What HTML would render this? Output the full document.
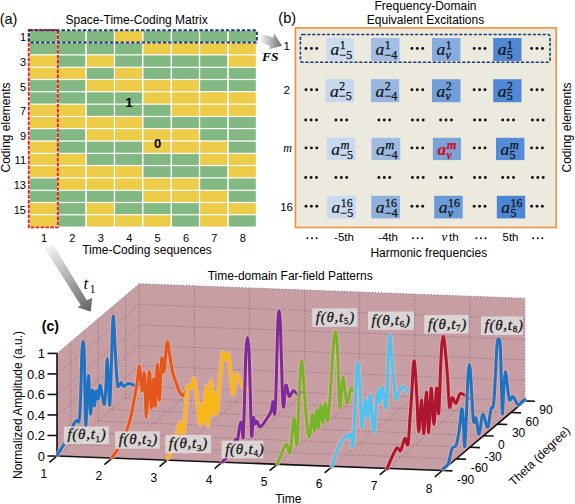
<!DOCTYPE html><html><head><meta charset="utf-8"><style>html,body{margin:0;padding:0;background:#fff;}svg{display:block;}text{font-family:"Liberation Sans",sans-serif;}</style></head><body><svg width="575" height="504" viewBox="0 0 575 504"><defs><linearGradient id="arr1" x1="0" y1="0" x2="1" y2="0"><stop offset="0" stop-color="#f4f4f4"/><stop offset="1" stop-color="#6e6e6e"/></linearGradient><linearGradient id="arr2" gradientUnits="userSpaceOnUse" x1="48" y1="246" x2="88" y2="308"><stop offset="0" stop-color="#f6f6f6"/><stop offset="1" stop-color="#6a6a6a"/></linearGradient></defs><text x="-0.3" y="23.5" font-size="14.5">(a)</text><text x="65.5" y="24.3" font-size="12">Space-Time-Coding Matrix</text><rect x="30.3" y="31.3" width="26.2" height="10.3" fill="#82b882" stroke="#72ad72" stroke-width="0.6"/><rect x="58.7" y="31.3" width="26.2" height="10.3" fill="#82b882" stroke="#72ad72" stroke-width="0.6"/><rect x="87.1" y="31.3" width="26.2" height="10.3" fill="#82b882" stroke="#72ad72" stroke-width="0.6"/><rect x="115.5" y="31.3" width="26.2" height="10.3" fill="#edcc47" stroke="#e6c030" stroke-width="0.6"/><rect x="143.9" y="31.3" width="26.2" height="10.3" fill="#82b882" stroke="#72ad72" stroke-width="0.6"/><rect x="172.3" y="31.3" width="26.2" height="10.3" fill="#82b882" stroke="#72ad72" stroke-width="0.6"/><rect x="200.7" y="31.3" width="26.2" height="10.3" fill="#82b882" stroke="#72ad72" stroke-width="0.6"/><rect x="229.1" y="31.3" width="26.2" height="10.3" fill="#82b882" stroke="#72ad72" stroke-width="0.6"/><rect x="30.3" y="43.6" width="26.2" height="10.3" fill="#82b882" stroke="#72ad72" stroke-width="0.6"/><rect x="58.7" y="43.6" width="26.2" height="10.3" fill="#82b882" stroke="#72ad72" stroke-width="0.6"/><rect x="87.1" y="43.6" width="26.2" height="10.3" fill="#82b882" stroke="#72ad72" stroke-width="0.6"/><rect x="115.5" y="43.6" width="26.2" height="10.3" fill="#82b882" stroke="#72ad72" stroke-width="0.6"/><rect x="143.9" y="43.6" width="26.2" height="10.3" fill="#edcc47" stroke="#e6c030" stroke-width="0.6"/><rect x="172.3" y="43.6" width="26.2" height="10.3" fill="#edcc47" stroke="#e6c030" stroke-width="0.6"/><rect x="200.7" y="43.6" width="26.2" height="10.3" fill="#edcc47" stroke="#e6c030" stroke-width="0.6"/><rect x="229.1" y="43.6" width="26.2" height="10.3" fill="#edcc47" stroke="#e6c030" stroke-width="0.6"/><rect x="30.3" y="55.9" width="26.2" height="10.3" fill="#edcc47" stroke="#e6c030" stroke-width="0.6"/><rect x="58.7" y="55.9" width="26.2" height="10.3" fill="#82b882" stroke="#72ad72" stroke-width="0.6"/><rect x="87.1" y="55.9" width="26.2" height="10.3" fill="#edcc47" stroke="#e6c030" stroke-width="0.6"/><rect x="115.5" y="55.9" width="26.2" height="10.3" fill="#82b882" stroke="#72ad72" stroke-width="0.6"/><rect x="143.9" y="55.9" width="26.2" height="10.3" fill="#82b882" stroke="#72ad72" stroke-width="0.6"/><rect x="172.3" y="55.9" width="26.2" height="10.3" fill="#82b882" stroke="#72ad72" stroke-width="0.6"/><rect x="200.7" y="55.9" width="26.2" height="10.3" fill="#82b882" stroke="#72ad72" stroke-width="0.6"/><rect x="229.1" y="55.9" width="26.2" height="10.3" fill="#edcc47" stroke="#e6c030" stroke-width="0.6"/><rect x="30.3" y="68.2" width="26.2" height="10.3" fill="#edcc47" stroke="#e6c030" stroke-width="0.6"/><rect x="58.7" y="68.2" width="26.2" height="10.3" fill="#edcc47" stroke="#e6c030" stroke-width="0.6"/><rect x="87.1" y="68.2" width="26.2" height="10.3" fill="#82b882" stroke="#72ad72" stroke-width="0.6"/><rect x="115.5" y="68.2" width="26.2" height="10.3" fill="#edcc47" stroke="#e6c030" stroke-width="0.6"/><rect x="143.9" y="68.2" width="26.2" height="10.3" fill="#82b882" stroke="#72ad72" stroke-width="0.6"/><rect x="172.3" y="68.2" width="26.2" height="10.3" fill="#82b882" stroke="#72ad72" stroke-width="0.6"/><rect x="200.7" y="68.2" width="26.2" height="10.3" fill="#82b882" stroke="#72ad72" stroke-width="0.6"/><rect x="229.1" y="68.2" width="26.2" height="10.3" fill="#82b882" stroke="#72ad72" stroke-width="0.6"/><rect x="30.3" y="80.5" width="26.2" height="10.3" fill="#82b882" stroke="#72ad72" stroke-width="0.6"/><rect x="58.7" y="80.5" width="26.2" height="10.3" fill="#82b882" stroke="#72ad72" stroke-width="0.6"/><rect x="87.1" y="80.5" width="26.2" height="10.3" fill="#edcc47" stroke="#e6c030" stroke-width="0.6"/><rect x="115.5" y="80.5" width="26.2" height="10.3" fill="#edcc47" stroke="#e6c030" stroke-width="0.6"/><rect x="143.9" y="80.5" width="26.2" height="10.3" fill="#edcc47" stroke="#e6c030" stroke-width="0.6"/><rect x="172.3" y="80.5" width="26.2" height="10.3" fill="#edcc47" stroke="#e6c030" stroke-width="0.6"/><rect x="200.7" y="80.5" width="26.2" height="10.3" fill="#82b882" stroke="#72ad72" stroke-width="0.6"/><rect x="229.1" y="80.5" width="26.2" height="10.3" fill="#82b882" stroke="#72ad72" stroke-width="0.6"/><rect x="30.3" y="92.8" width="26.2" height="10.3" fill="#82b882" stroke="#72ad72" stroke-width="0.6"/><rect x="58.7" y="92.8" width="26.2" height="10.3" fill="#82b882" stroke="#72ad72" stroke-width="0.6"/><rect x="87.1" y="92.8" width="26.2" height="10.3" fill="#82b882" stroke="#72ad72" stroke-width="0.6"/><rect x="115.5" y="92.8" width="26.2" height="10.3" fill="#82b882" stroke="#72ad72" stroke-width="0.6"/><rect x="143.9" y="92.8" width="26.2" height="10.3" fill="#edcc47" stroke="#e6c030" stroke-width="0.6"/><rect x="172.3" y="92.8" width="26.2" height="10.3" fill="#edcc47" stroke="#e6c030" stroke-width="0.6"/><rect x="200.7" y="92.8" width="26.2" height="10.3" fill="#edcc47" stroke="#e6c030" stroke-width="0.6"/><rect x="229.1" y="92.8" width="26.2" height="10.3" fill="#edcc47" stroke="#e6c030" stroke-width="0.6"/><rect x="30.3" y="105.1" width="26.2" height="10.3" fill="#edcc47" stroke="#e6c030" stroke-width="0.6"/><rect x="58.7" y="105.1" width="26.2" height="10.3" fill="#edcc47" stroke="#e6c030" stroke-width="0.6"/><rect x="87.1" y="105.1" width="26.2" height="10.3" fill="#82b882" stroke="#72ad72" stroke-width="0.6"/><rect x="115.5" y="105.1" width="26.2" height="10.3" fill="#82b882" stroke="#72ad72" stroke-width="0.6"/><rect x="143.9" y="105.1" width="26.2" height="10.3" fill="#82b882" stroke="#72ad72" stroke-width="0.6"/><rect x="172.3" y="105.1" width="26.2" height="10.3" fill="#edcc47" stroke="#e6c030" stroke-width="0.6"/><rect x="200.7" y="105.1" width="26.2" height="10.3" fill="#edcc47" stroke="#e6c030" stroke-width="0.6"/><rect x="229.1" y="105.1" width="26.2" height="10.3" fill="#edcc47" stroke="#e6c030" stroke-width="0.6"/><rect x="30.3" y="117.4" width="26.2" height="10.3" fill="#edcc47" stroke="#e6c030" stroke-width="0.6"/><rect x="58.7" y="117.4" width="26.2" height="10.3" fill="#edcc47" stroke="#e6c030" stroke-width="0.6"/><rect x="87.1" y="117.4" width="26.2" height="10.3" fill="#edcc47" stroke="#e6c030" stroke-width="0.6"/><rect x="115.5" y="117.4" width="26.2" height="10.3" fill="#edcc47" stroke="#e6c030" stroke-width="0.6"/><rect x="143.9" y="117.4" width="26.2" height="10.3" fill="#82b882" stroke="#72ad72" stroke-width="0.6"/><rect x="172.3" y="117.4" width="26.2" height="10.3" fill="#82b882" stroke="#72ad72" stroke-width="0.6"/><rect x="200.7" y="117.4" width="26.2" height="10.3" fill="#82b882" stroke="#72ad72" stroke-width="0.6"/><rect x="229.1" y="117.4" width="26.2" height="10.3" fill="#82b882" stroke="#72ad72" stroke-width="0.6"/><rect x="30.3" y="129.7" width="26.2" height="10.3" fill="#82b882" stroke="#72ad72" stroke-width="0.6"/><rect x="58.7" y="129.7" width="26.2" height="10.3" fill="#82b882" stroke="#72ad72" stroke-width="0.6"/><rect x="87.1" y="129.7" width="26.2" height="10.3" fill="#edcc47" stroke="#e6c030" stroke-width="0.6"/><rect x="115.5" y="129.7" width="26.2" height="10.3" fill="#edcc47" stroke="#e6c030" stroke-width="0.6"/><rect x="143.9" y="129.7" width="26.2" height="10.3" fill="#edcc47" stroke="#e6c030" stroke-width="0.6"/><rect x="172.3" y="129.7" width="26.2" height="10.3" fill="#edcc47" stroke="#e6c030" stroke-width="0.6"/><rect x="200.7" y="129.7" width="26.2" height="10.3" fill="#82b882" stroke="#72ad72" stroke-width="0.6"/><rect x="229.1" y="129.7" width="26.2" height="10.3" fill="#82b882" stroke="#72ad72" stroke-width="0.6"/><rect x="30.3" y="142.0" width="26.2" height="10.3" fill="#edcc47" stroke="#e6c030" stroke-width="0.6"/><rect x="58.7" y="142.0" width="26.2" height="10.3" fill="#82b882" stroke="#72ad72" stroke-width="0.6"/><rect x="87.1" y="142.0" width="26.2" height="10.3" fill="#82b882" stroke="#72ad72" stroke-width="0.6"/><rect x="115.5" y="142.0" width="26.2" height="10.3" fill="#82b882" stroke="#72ad72" stroke-width="0.6"/><rect x="143.9" y="142.0" width="26.2" height="10.3" fill="#edcc47" stroke="#e6c030" stroke-width="0.6"/><rect x="172.3" y="142.0" width="26.2" height="10.3" fill="#edcc47" stroke="#e6c030" stroke-width="0.6"/><rect x="200.7" y="142.0" width="26.2" height="10.3" fill="#edcc47" stroke="#e6c030" stroke-width="0.6"/><rect x="229.1" y="142.0" width="26.2" height="10.3" fill="#82b882" stroke="#72ad72" stroke-width="0.6"/><rect x="30.3" y="154.3" width="26.2" height="10.3" fill="#edcc47" stroke="#e6c030" stroke-width="0.6"/><rect x="58.7" y="154.3" width="26.2" height="10.3" fill="#edcc47" stroke="#e6c030" stroke-width="0.6"/><rect x="87.1" y="154.3" width="26.2" height="10.3" fill="#82b882" stroke="#72ad72" stroke-width="0.6"/><rect x="115.5" y="154.3" width="26.2" height="10.3" fill="#82b882" stroke="#72ad72" stroke-width="0.6"/><rect x="143.9" y="154.3" width="26.2" height="10.3" fill="#82b882" stroke="#72ad72" stroke-width="0.6"/><rect x="172.3" y="154.3" width="26.2" height="10.3" fill="#82b882" stroke="#72ad72" stroke-width="0.6"/><rect x="200.7" y="154.3" width="26.2" height="10.3" fill="#edcc47" stroke="#e6c030" stroke-width="0.6"/><rect x="229.1" y="154.3" width="26.2" height="10.3" fill="#edcc47" stroke="#e6c030" stroke-width="0.6"/><rect x="30.3" y="166.6" width="26.2" height="10.3" fill="#edcc47" stroke="#e6c030" stroke-width="0.6"/><rect x="58.7" y="166.6" width="26.2" height="10.3" fill="#edcc47" stroke="#e6c030" stroke-width="0.6"/><rect x="87.1" y="166.6" width="26.2" height="10.3" fill="#edcc47" stroke="#e6c030" stroke-width="0.6"/><rect x="115.5" y="166.6" width="26.2" height="10.3" fill="#edcc47" stroke="#e6c030" stroke-width="0.6"/><rect x="143.9" y="166.6" width="26.2" height="10.3" fill="#82b882" stroke="#72ad72" stroke-width="0.6"/><rect x="172.3" y="166.6" width="26.2" height="10.3" fill="#82b882" stroke="#72ad72" stroke-width="0.6"/><rect x="200.7" y="166.6" width="26.2" height="10.3" fill="#82b882" stroke="#72ad72" stroke-width="0.6"/><rect x="229.1" y="166.6" width="26.2" height="10.3" fill="#edcc47" stroke="#e6c030" stroke-width="0.6"/><rect x="30.3" y="178.9" width="26.2" height="10.3" fill="#82b882" stroke="#72ad72" stroke-width="0.6"/><rect x="58.7" y="178.9" width="26.2" height="10.3" fill="#edcc47" stroke="#e6c030" stroke-width="0.6"/><rect x="87.1" y="178.9" width="26.2" height="10.3" fill="#edcc47" stroke="#e6c030" stroke-width="0.6"/><rect x="115.5" y="178.9" width="26.2" height="10.3" fill="#edcc47" stroke="#e6c030" stroke-width="0.6"/><rect x="143.9" y="178.9" width="26.2" height="10.3" fill="#edcc47" stroke="#e6c030" stroke-width="0.6"/><rect x="172.3" y="178.9" width="26.2" height="10.3" fill="#edcc47" stroke="#e6c030" stroke-width="0.6"/><rect x="200.7" y="178.9" width="26.2" height="10.3" fill="#82b882" stroke="#72ad72" stroke-width="0.6"/><rect x="229.1" y="178.9" width="26.2" height="10.3" fill="#82b882" stroke="#72ad72" stroke-width="0.6"/><rect x="30.3" y="191.2" width="26.2" height="10.3" fill="#82b882" stroke="#72ad72" stroke-width="0.6"/><rect x="58.7" y="191.2" width="26.2" height="10.3" fill="#82b882" stroke="#72ad72" stroke-width="0.6"/><rect x="87.1" y="191.2" width="26.2" height="10.3" fill="#82b882" stroke="#72ad72" stroke-width="0.6"/><rect x="115.5" y="191.2" width="26.2" height="10.3" fill="#82b882" stroke="#72ad72" stroke-width="0.6"/><rect x="143.9" y="191.2" width="26.2" height="10.3" fill="#edcc47" stroke="#e6c030" stroke-width="0.6"/><rect x="172.3" y="191.2" width="26.2" height="10.3" fill="#edcc47" stroke="#e6c030" stroke-width="0.6"/><rect x="200.7" y="191.2" width="26.2" height="10.3" fill="#edcc47" stroke="#e6c030" stroke-width="0.6"/><rect x="229.1" y="191.2" width="26.2" height="10.3" fill="#82b882" stroke="#72ad72" stroke-width="0.6"/><rect x="30.3" y="203.5" width="26.2" height="10.3" fill="#edcc47" stroke="#e6c030" stroke-width="0.6"/><rect x="58.7" y="203.5" width="26.2" height="10.3" fill="#82b882" stroke="#72ad72" stroke-width="0.6"/><rect x="87.1" y="203.5" width="26.2" height="10.3" fill="#edcc47" stroke="#e6c030" stroke-width="0.6"/><rect x="115.5" y="203.5" width="26.2" height="10.3" fill="#82b882" stroke="#72ad72" stroke-width="0.6"/><rect x="143.9" y="203.5" width="26.2" height="10.3" fill="#82b882" stroke="#72ad72" stroke-width="0.6"/><rect x="172.3" y="203.5" width="26.2" height="10.3" fill="#82b882" stroke="#72ad72" stroke-width="0.6"/><rect x="200.7" y="203.5" width="26.2" height="10.3" fill="#edcc47" stroke="#e6c030" stroke-width="0.6"/><rect x="229.1" y="203.5" width="26.2" height="10.3" fill="#edcc47" stroke="#e6c030" stroke-width="0.6"/><rect x="30.3" y="215.8" width="26.2" height="10.3" fill="#edcc47" stroke="#e6c030" stroke-width="0.6"/><rect x="58.7" y="215.8" width="26.2" height="10.3" fill="#82b882" stroke="#72ad72" stroke-width="0.6"/><rect x="87.1" y="215.8" width="26.2" height="10.3" fill="#edcc47" stroke="#e6c030" stroke-width="0.6"/><rect x="115.5" y="215.8" width="26.2" height="10.3" fill="#edcc47" stroke="#e6c030" stroke-width="0.6"/><rect x="143.9" y="215.8" width="26.2" height="10.3" fill="#edcc47" stroke="#e6c030" stroke-width="0.6"/><rect x="172.3" y="215.8" width="26.2" height="10.3" fill="#82b882" stroke="#72ad72" stroke-width="0.6"/><rect x="200.7" y="215.8" width="26.2" height="10.3" fill="#edcc47" stroke="#e6c030" stroke-width="0.6"/><rect x="229.1" y="215.8" width="26.2" height="10.3" fill="#82b882" stroke="#72ad72" stroke-width="0.6"/><text x="26" y="41.4" font-size="11" text-anchor="end">1</text><text x="26" y="66.0" font-size="11" text-anchor="end">3</text><text x="26" y="90.6" font-size="11" text-anchor="end">5</text><text x="26" y="115.2" font-size="11" text-anchor="end">7</text><text x="26" y="139.8" font-size="11" text-anchor="end">9</text><text x="26" y="164.4" font-size="11" text-anchor="end">11</text><text x="26" y="189.0" font-size="11" text-anchor="end">13</text><text x="26" y="213.6" font-size="11" text-anchor="end">15</text><text x="44.0" y="242" font-size="11" text-anchor="middle">1</text><text x="72.4" y="242" font-size="11" text-anchor="middle">2</text><text x="100.8" y="242" font-size="11" text-anchor="middle">3</text><text x="129.2" y="242" font-size="11" text-anchor="middle">4</text><text x="157.6" y="242" font-size="11" text-anchor="middle">5</text><text x="186.0" y="242" font-size="11" text-anchor="middle">6</text><text x="214.4" y="242" font-size="11" text-anchor="middle">7</text><text x="242.8" y="242" font-size="11" text-anchor="middle">8</text><text x="82.2" y="254" font-size="12">Time-Coding sequences</text><text transform="translate(9.8,127.5) rotate(-90)" font-size="12" text-anchor="middle">Coding elements</text><text x="129" y="106.8" font-size="13.5" font-weight="bold" text-anchor="middle">1</text><text x="157.5" y="147.5" font-size="13" font-weight="bold" text-anchor="middle">0</text><rect x="28.8" y="30" width="29.0" height="197.4" fill="none" stroke="#f01616" stroke-width="1.9" stroke-dasharray="3.6,1.3"/><rect x="28.8" y="30.2" width="228" height="12.3" rx="1" fill="none" stroke="#1e3c72" stroke-width="2.1" stroke-dasharray="3.4,1.9"/><path d="M261.5,34 Q267,35 273,37.8 L274.2,33.6 L282.1,45.7 L268.7,49.6 L270.3,46.2 Q265,44 260.5,42.6 Z" fill="url(#arr1)"/><text x="262" y="60.5" font-size="13.5" font-weight="bold" font-style="italic" font-family="Liberation Serif" style="font-family:'Liberation Serif',serif">FS</text><text x="278.3" y="22.7" font-size="14.5">(b)</text><text x="425.5" y="10.3" font-size="12" text-anchor="middle">Frequency-Domain</text><text x="425.5" y="23.8" font-size="12" text-anchor="middle">Equivalent Excitations</text><rect x="295.4" y="27.9" width="260.8" height="199.6" fill="#ece9de" stroke="#f0923c" stroke-width="1.6"/><rect x="300.4" y="34.5" width="249.6" height="27.8" rx="2" fill="none" stroke="#1e3c72" stroke-width="1.6" stroke-dasharray="3.2,1.7"/><rect x="326" y="38" width="28.0" height="23.0" fill="#ccdbee"/><text x="330.5" y="55.3" font-size="17.5" font-style="italic" fill="#111" stroke="#111" stroke-width="0.2" style="font-family:'Liberation Serif',serif">a</text><text x="339.8" y="49.2" font-size="11.8" fill="#111" stroke="#111" stroke-width="0.25" style="font-family:'Liberation Serif',serif">1</text><text x="339.6" y="58.9" font-size="12" fill="#111" stroke="#111" stroke-width="0.25" style="font-family:'Liberation Serif',serif">−5</text><rect x="371" y="38" width="28.5" height="23.0" fill="#a3bee4"/><text x="375.5" y="55.3" font-size="17.5" font-style="italic" fill="#111" stroke="#111" stroke-width="0.2" style="font-family:'Liberation Serif',serif">a</text><text x="384.8" y="49.2" font-size="11.8" fill="#111" stroke="#111" stroke-width="0.25" style="font-family:'Liberation Serif',serif">1</text><text x="384.6" y="58.9" font-size="12" fill="#111" stroke="#111" stroke-width="0.25" style="font-family:'Liberation Serif',serif">−4</text><rect x="432" y="38" width="28.4" height="23.0" fill="#85abdf"/><text x="436.5" y="55.3" font-size="17.5" font-style="italic" fill="#111" stroke="#111" stroke-width="0.2" style="font-family:'Liberation Serif',serif">a</text><text x="445.8" y="49.2" font-size="11.8" fill="#111" stroke="#111" stroke-width="0.25" style="font-family:'Liberation Serif',serif">1</text><text x="445.6" y="58.9" font-size="12" font-style="italic" fill="#111" stroke="#111" stroke-width="0.25" style="font-family:'Liberation Serif',serif">v</text><rect x="493.2" y="38" width="28.3" height="23.0" fill="#4f87d3"/><text x="497.7" y="55.3" font-size="17.5" font-style="italic" fill="#111" stroke="#111" stroke-width="0.2" style="font-family:'Liberation Serif',serif">a</text><text x="507.0" y="49.2" font-size="11.8" fill="#111" stroke="#111" stroke-width="0.25" style="font-family:'Liberation Serif',serif">1</text><text x="506.8" y="58.9" font-size="12" fill="#111" stroke="#111" stroke-width="0.25" style="font-family:'Liberation Serif',serif">5</text><circle cx="306.00" cy="48.50" r="1.45" fill="#111"/><circle cx="311.40" cy="48.50" r="1.45" fill="#111"/><circle cx="316.80" cy="48.50" r="1.45" fill="#111"/><circle cx="411.90" cy="48.50" r="1.45" fill="#111"/><circle cx="417.30" cy="48.50" r="1.45" fill="#111"/><circle cx="422.70" cy="48.50" r="1.45" fill="#111"/><circle cx="474.20" cy="48.50" r="1.45" fill="#111"/><circle cx="479.60" cy="48.50" r="1.45" fill="#111"/><circle cx="485.00" cy="48.50" r="1.45" fill="#111"/><circle cx="531.60" cy="48.50" r="1.45" fill="#111"/><circle cx="537.00" cy="48.50" r="1.45" fill="#111"/><circle cx="542.40" cy="48.50" r="1.45" fill="#111"/><text x="290" y="50.0" font-size="11.5" text-anchor="end">1</text><rect x="325.5" y="79.2" width="28.5" height="23.0" fill="#c6d7ee"/><text x="330.0" y="96.5" font-size="17.5" font-style="italic" fill="#111" stroke="#111" stroke-width="0.2" style="font-family:'Liberation Serif',serif">a</text><text x="339.3" y="90.4" font-size="11.8" fill="#111" stroke="#111" stroke-width="0.25" style="font-family:'Liberation Serif',serif">2</text><text x="339.1" y="100.1" font-size="12" fill="#111" stroke="#111" stroke-width="0.25" style="font-family:'Liberation Serif',serif">−5</text><rect x="371" y="79.2" width="28.2" height="23.0" fill="#98b6df"/><text x="375.5" y="96.5" font-size="17.5" font-style="italic" fill="#111" stroke="#111" stroke-width="0.2" style="font-family:'Liberation Serif',serif">a</text><text x="384.8" y="90.4" font-size="11.8" fill="#111" stroke="#111" stroke-width="0.25" style="font-family:'Liberation Serif',serif">2</text><text x="384.6" y="100.1" font-size="12" fill="#111" stroke="#111" stroke-width="0.25" style="font-family:'Liberation Serif',serif">−4</text><rect x="432" y="79.2" width="28.5" height="23.0" fill="#729fd9"/><text x="436.5" y="96.5" font-size="17.5" font-style="italic" fill="#111" stroke="#111" stroke-width="0.2" style="font-family:'Liberation Serif',serif">a</text><text x="445.8" y="90.4" font-size="11.8" fill="#111" stroke="#111" stroke-width="0.25" style="font-family:'Liberation Serif',serif">2</text><text x="445.6" y="100.1" font-size="12" font-style="italic" fill="#111" stroke="#111" stroke-width="0.25" style="font-family:'Liberation Serif',serif">v</text><rect x="493.2" y="79.2" width="28.3" height="23.0" fill="#4e88d6"/><text x="497.7" y="96.5" font-size="17.5" font-style="italic" fill="#111" stroke="#111" stroke-width="0.2" style="font-family:'Liberation Serif',serif">a</text><text x="507.0" y="90.4" font-size="11.8" fill="#111" stroke="#111" stroke-width="0.25" style="font-family:'Liberation Serif',serif">2</text><text x="506.8" y="100.1" font-size="12" fill="#111" stroke="#111" stroke-width="0.25" style="font-family:'Liberation Serif',serif">5</text><circle cx="306.00" cy="89.70" r="1.45" fill="#111"/><circle cx="311.40" cy="89.70" r="1.45" fill="#111"/><circle cx="316.80" cy="89.70" r="1.45" fill="#111"/><circle cx="411.90" cy="89.70" r="1.45" fill="#111"/><circle cx="417.30" cy="89.70" r="1.45" fill="#111"/><circle cx="422.70" cy="89.70" r="1.45" fill="#111"/><circle cx="474.20" cy="89.70" r="1.45" fill="#111"/><circle cx="479.60" cy="89.70" r="1.45" fill="#111"/><circle cx="485.00" cy="89.70" r="1.45" fill="#111"/><circle cx="531.60" cy="89.70" r="1.45" fill="#111"/><circle cx="537.00" cy="89.70" r="1.45" fill="#111"/><circle cx="542.40" cy="89.70" r="1.45" fill="#111"/><text x="290" y="94.0" font-size="11.5" text-anchor="end">2</text><rect x="326.7" y="137.8" width="28.7" height="22.3" fill="#c9daf0"/><text x="331.2" y="155.1" font-size="17.5" font-style="italic" fill="#111" stroke="#111" stroke-width="0.2" style="font-family:'Liberation Serif',serif">a</text><text x="340.5" y="149.0" font-size="12.5" font-style="italic" fill="#111" stroke="#111" stroke-width="0.25" style="font-family:'Liberation Serif',serif">m</text><text x="340.3" y="158.7" font-size="12" fill="#111" stroke="#111" stroke-width="0.25" style="font-family:'Liberation Serif',serif">−5</text><rect x="371.5" y="137.8" width="28.7" height="22.3" fill="#9fbbe2"/><text x="376.0" y="155.1" font-size="17.5" font-style="italic" fill="#111" stroke="#111" stroke-width="0.2" style="font-family:'Liberation Serif',serif">a</text><text x="385.3" y="149.0" font-size="12.5" font-style="italic" fill="#111" stroke="#111" stroke-width="0.25" style="font-family:'Liberation Serif',serif">m</text><text x="385.1" y="158.7" font-size="12" fill="#111" stroke="#111" stroke-width="0.25" style="font-family:'Liberation Serif',serif">−4</text><rect x="432.9" y="137.8" width="28.1" height="22.3" fill="#7aa3da"/><text x="437.4" y="155.1" font-size="17.5" font-style="italic" fill="#d0101e" stroke="#d0101e" stroke-width="0.2" font-weight="bold" style="font-family:'Liberation Serif',serif">a</text><text x="446.7" y="149.0" font-size="12.5" font-style="italic" fill="#d0101e" stroke="#d0101e" stroke-width="0.25" font-weight="bold" style="font-family:'Liberation Serif',serif">m</text><text x="446.5" y="158.7" font-size="12" font-style="italic" fill="#d0101e" stroke="#d0101e" stroke-width="0.25" font-weight="bold" style="font-family:'Liberation Serif',serif">v</text><rect x="496" y="137.8" width="28.4" height="22.3" fill="#558cd7"/><text x="500.5" y="155.1" font-size="17.5" font-style="italic" fill="#111" stroke="#111" stroke-width="0.2" style="font-family:'Liberation Serif',serif">a</text><text x="509.8" y="149.0" font-size="12.5" font-style="italic" fill="#111" stroke="#111" stroke-width="0.25" style="font-family:'Liberation Serif',serif">m</text><text x="509.6" y="158.7" font-size="12" fill="#111" stroke="#111" stroke-width="0.25" style="font-family:'Liberation Serif',serif">5</text><circle cx="306.00" cy="147.90" r="1.45" fill="#111"/><circle cx="311.40" cy="147.90" r="1.45" fill="#111"/><circle cx="316.80" cy="147.90" r="1.45" fill="#111"/><circle cx="411.90" cy="147.90" r="1.45" fill="#111"/><circle cx="417.30" cy="147.90" r="1.45" fill="#111"/><circle cx="422.70" cy="147.90" r="1.45" fill="#111"/><circle cx="474.20" cy="147.90" r="1.45" fill="#111"/><circle cx="479.60" cy="147.90" r="1.45" fill="#111"/><circle cx="485.00" cy="147.90" r="1.45" fill="#111"/><circle cx="531.60" cy="147.90" r="1.45" fill="#111"/><circle cx="537.00" cy="147.90" r="1.45" fill="#111"/><circle cx="542.40" cy="147.90" r="1.45" fill="#111"/><text x="292" y="152.4" font-size="12" font-style="italic" text-anchor="end" style="font-family:'Liberation Serif',serif">m</text><rect x="327" y="195.8" width="28.8" height="22.6" fill="#c9d9ef"/><text x="331.5" y="213.1" font-size="17.5" font-style="italic" fill="#111" stroke="#111" stroke-width="0.2" style="font-family:'Liberation Serif',serif">a</text><text x="340.8" y="207.0" font-size="11.8" fill="#111" stroke="#111" stroke-width="0.25" style="font-family:'Liberation Serif',serif">16</text><text x="340.6" y="216.7" font-size="12" fill="#111" stroke="#111" stroke-width="0.25" style="font-family:'Liberation Serif',serif">−5</text><rect x="371.3" y="195.8" width="28.7" height="22.6" fill="#8db0dd"/><text x="375.8" y="213.1" font-size="17.5" font-style="italic" fill="#111" stroke="#111" stroke-width="0.2" style="font-family:'Liberation Serif',serif">a</text><text x="385.1" y="207.0" font-size="11.8" fill="#111" stroke="#111" stroke-width="0.25" style="font-family:'Liberation Serif',serif">16</text><text x="384.9" y="216.7" font-size="12" fill="#111" stroke="#111" stroke-width="0.25" style="font-family:'Liberation Serif',serif">−4</text><rect x="434.2" y="195.8" width="28.5" height="22.6" fill="#6c9ad7"/><text x="438.7" y="213.1" font-size="17.5" font-style="italic" fill="#111" stroke="#111" stroke-width="0.2" style="font-family:'Liberation Serif',serif">a</text><text x="448.0" y="207.0" font-size="11.8" fill="#111" stroke="#111" stroke-width="0.25" style="font-family:'Liberation Serif',serif">16</text><text x="447.8" y="216.7" font-size="12" font-style="italic" fill="#111" stroke="#111" stroke-width="0.25" style="font-family:'Liberation Serif',serif">v</text><rect x="496.8" y="195.8" width="28.4" height="22.6" fill="#4a86d4"/><text x="501.3" y="213.1" font-size="17.5" font-style="italic" fill="#111" stroke="#111" stroke-width="0.2" style="font-family:'Liberation Serif',serif">a</text><text x="510.6" y="207.0" font-size="11.8" fill="#111" stroke="#111" stroke-width="0.25" style="font-family:'Liberation Serif',serif">16</text><text x="510.4" y="216.7" font-size="12" fill="#111" stroke="#111" stroke-width="0.25" style="font-family:'Liberation Serif',serif">5</text><circle cx="306.00" cy="206.30" r="1.45" fill="#111"/><circle cx="311.40" cy="206.30" r="1.45" fill="#111"/><circle cx="316.80" cy="206.30" r="1.45" fill="#111"/><circle cx="411.90" cy="206.30" r="1.45" fill="#111"/><circle cx="417.30" cy="206.30" r="1.45" fill="#111"/><circle cx="422.70" cy="206.30" r="1.45" fill="#111"/><circle cx="474.20" cy="206.30" r="1.45" fill="#111"/><circle cx="479.60" cy="206.30" r="1.45" fill="#111"/><circle cx="485.00" cy="206.30" r="1.45" fill="#111"/><circle cx="531.60" cy="206.30" r="1.45" fill="#111"/><circle cx="537.00" cy="206.30" r="1.45" fill="#111"/><circle cx="542.40" cy="206.30" r="1.45" fill="#111"/><text x="293" y="210.6" font-size="11.5" text-anchor="end">16</text><circle cx="305.70" cy="120.00" r="1.45" fill="#111"/><circle cx="311.10" cy="120.00" r="1.45" fill="#111"/><circle cx="316.50" cy="120.00" r="1.45" fill="#111"/><circle cx="335.90" cy="120.00" r="1.45" fill="#111"/><circle cx="341.30" cy="120.00" r="1.45" fill="#111"/><circle cx="346.70" cy="120.00" r="1.45" fill="#111"/><circle cx="378.90" cy="120.00" r="1.45" fill="#111"/><circle cx="384.30" cy="120.00" r="1.45" fill="#111"/><circle cx="389.70" cy="120.00" r="1.45" fill="#111"/><circle cx="412.40" cy="120.00" r="1.45" fill="#111"/><circle cx="417.80" cy="120.00" r="1.45" fill="#111"/><circle cx="423.20" cy="120.00" r="1.45" fill="#111"/><circle cx="440.60" cy="120.00" r="1.45" fill="#111"/><circle cx="446.00" cy="120.00" r="1.45" fill="#111"/><circle cx="451.40" cy="120.00" r="1.45" fill="#111"/><circle cx="474.50" cy="120.00" r="1.45" fill="#111"/><circle cx="479.90" cy="120.00" r="1.45" fill="#111"/><circle cx="485.30" cy="120.00" r="1.45" fill="#111"/><circle cx="502.70" cy="120.00" r="1.45" fill="#111"/><circle cx="508.10" cy="120.00" r="1.45" fill="#111"/><circle cx="513.50" cy="120.00" r="1.45" fill="#111"/><circle cx="532.40" cy="120.00" r="1.45" fill="#111"/><circle cx="537.80" cy="120.00" r="1.45" fill="#111"/><circle cx="543.20" cy="120.00" r="1.45" fill="#111"/><circle cx="305.70" cy="177.50" r="1.45" fill="#111"/><circle cx="311.10" cy="177.50" r="1.45" fill="#111"/><circle cx="316.50" cy="177.50" r="1.45" fill="#111"/><circle cx="335.90" cy="177.50" r="1.45" fill="#111"/><circle cx="341.30" cy="177.50" r="1.45" fill="#111"/><circle cx="346.70" cy="177.50" r="1.45" fill="#111"/><circle cx="378.90" cy="177.50" r="1.45" fill="#111"/><circle cx="384.30" cy="177.50" r="1.45" fill="#111"/><circle cx="389.70" cy="177.50" r="1.45" fill="#111"/><circle cx="412.40" cy="177.50" r="1.45" fill="#111"/><circle cx="417.80" cy="177.50" r="1.45" fill="#111"/><circle cx="423.20" cy="177.50" r="1.45" fill="#111"/><circle cx="440.60" cy="177.50" r="1.45" fill="#111"/><circle cx="446.00" cy="177.50" r="1.45" fill="#111"/><circle cx="451.40" cy="177.50" r="1.45" fill="#111"/><circle cx="474.50" cy="177.50" r="1.45" fill="#111"/><circle cx="479.90" cy="177.50" r="1.45" fill="#111"/><circle cx="485.30" cy="177.50" r="1.45" fill="#111"/><circle cx="502.70" cy="177.50" r="1.45" fill="#111"/><circle cx="508.10" cy="177.50" r="1.45" fill="#111"/><circle cx="513.50" cy="177.50" r="1.45" fill="#111"/><circle cx="532.40" cy="177.50" r="1.45" fill="#111"/><circle cx="537.80" cy="177.50" r="1.45" fill="#111"/><circle cx="543.20" cy="177.50" r="1.45" fill="#111"/><circle cx="307.40" cy="238.30" r="1.0" fill="#111"/><circle cx="312.00" cy="238.30" r="1.0" fill="#111"/><circle cx="316.60" cy="238.30" r="1.0" fill="#111"/><circle cx="413.00" cy="238.30" r="1.0" fill="#111"/><circle cx="417.60" cy="238.30" r="1.0" fill="#111"/><circle cx="422.20" cy="238.30" r="1.0" fill="#111"/><circle cx="476.40" cy="238.30" r="1.0" fill="#111"/><circle cx="481.00" cy="238.30" r="1.0" fill="#111"/><circle cx="485.60" cy="238.30" r="1.0" fill="#111"/><circle cx="533.20" cy="238.30" r="1.0" fill="#111"/><circle cx="537.80" cy="238.30" r="1.0" fill="#111"/><circle cx="542.40" cy="238.30" r="1.0" fill="#111"/><text x="344" y="241.2" font-size="11.5" text-anchor="middle">-5th</text><text x="388" y="241.2" font-size="11.5" text-anchor="middle">-4th</text><text x="441.5" y="241.2" font-size="13" font-style="italic" style="font-family:'Liberation Serif',serif">v</text><text x="449" y="241.2" font-size="11.5">th</text><text x="510.5" y="241.2" font-size="11.5" text-anchor="middle">5th</text><text x="428.8" y="256.8" font-size="12" text-anchor="middle">Harmonic frequencies</text><text transform="translate(571,127.5) rotate(-90)" font-size="12" text-anchor="middle">Coding elements</text><path d="M45.2,249.1 L53.2,244.6 L86.8,300.3 L92.2,297.8 L90.8,311.7 L77.4,307.2 L80.8,305.2 Z" fill="url(#arr2)"/><text x="83.5" y="289.3" font-size="17" font-style="italic" style="font-family:'Liberation Serif',serif">t</text><text x="89.8" y="293.3" font-size="11.5" style="font-family:'Liberation Serif',serif">1</text><text x="207.7" y="279.8" font-size="12">Time-domain Far-field Patterns</text><text x="41.8" y="331" font-size="14" font-weight="bold">(c)</text><path d="M57,353.4 L139.4,283.8 L524.8,298.3 L524.8,400.9 L442.4,470.5 L57,456 Z" fill="#c89ea5"/><line x1="139.40" y1="386.40" x2="139.40" y2="283.80" stroke="#8e7379" stroke-width="0.95" stroke-dasharray="1.3,1.8" fill="none"/><line x1="194.46" y1="388.47" x2="194.46" y2="285.87" stroke="#8e7379" stroke-width="0.95" stroke-dasharray="1.3,1.8" fill="none"/><line x1="249.52" y1="390.54" x2="249.52" y2="287.94" stroke="#8e7379" stroke-width="0.95" stroke-dasharray="1.3,1.8" fill="none"/><line x1="304.58" y1="392.61" x2="304.58" y2="290.01" stroke="#8e7379" stroke-width="0.95" stroke-dasharray="1.3,1.8" fill="none"/><line x1="359.64" y1="394.68" x2="359.64" y2="292.08" stroke="#8e7379" stroke-width="0.95" stroke-dasharray="1.3,1.8" fill="none"/><line x1="414.70" y1="396.75" x2="414.70" y2="294.15" stroke="#8e7379" stroke-width="0.95" stroke-dasharray="1.3,1.8" fill="none"/><line x1="469.76" y1="398.82" x2="469.76" y2="296.22" stroke="#8e7379" stroke-width="0.95" stroke-dasharray="1.3,1.8" fill="none"/><line x1="524.82" y1="400.89" x2="524.82" y2="298.29" stroke="#8e7379" stroke-width="0.95" stroke-dasharray="1.3,1.8" fill="none"/><line x1="139.40" y1="365.88" x2="524.82" y2="380.37" stroke="#8e7379" stroke-width="0.95" stroke-dasharray="1.3,1.8" fill="none"/><line x1="139.40" y1="345.36" x2="524.82" y2="359.85" stroke="#8e7379" stroke-width="0.95" stroke-dasharray="1.3,1.8" fill="none"/><line x1="139.40" y1="324.84" x2="524.82" y2="339.33" stroke="#8e7379" stroke-width="0.95" stroke-dasharray="1.3,1.8" fill="none"/><line x1="139.40" y1="304.32" x2="524.82" y2="318.81" stroke="#8e7379" stroke-width="0.95" stroke-dasharray="1.3,1.8" fill="none"/><line x1="139.40" y1="283.80" x2="524.82" y2="298.29" stroke="#8e7379" stroke-width="0.95" stroke-dasharray="1.3,1.8" fill="none"/><line x1="70.73" y1="444.40" x2="70.73" y2="341.80" stroke="#8e7379" stroke-width="0.95" stroke-dasharray="1.3,1.8" fill="none"/><line x1="84.47" y1="432.80" x2="84.47" y2="330.20" stroke="#8e7379" stroke-width="0.95" stroke-dasharray="1.3,1.8" fill="none"/><line x1="98.20" y1="421.20" x2="98.20" y2="318.60" stroke="#8e7379" stroke-width="0.95" stroke-dasharray="1.3,1.8" fill="none"/><line x1="111.93" y1="409.60" x2="111.93" y2="307.00" stroke="#8e7379" stroke-width="0.95" stroke-dasharray="1.3,1.8" fill="none"/><line x1="125.67" y1="398.00" x2="125.67" y2="295.40" stroke="#8e7379" stroke-width="0.95" stroke-dasharray="1.3,1.8" fill="none"/><line x1="57.00" y1="435.48" x2="139.40" y2="365.88" stroke="#8e7379" stroke-width="0.95" stroke-dasharray="1.3,1.8" fill="none"/><line x1="57.00" y1="414.96" x2="139.40" y2="345.36" stroke="#8e7379" stroke-width="0.95" stroke-dasharray="1.3,1.8" fill="none"/><line x1="57.00" y1="394.44" x2="139.40" y2="324.84" stroke="#8e7379" stroke-width="0.95" stroke-dasharray="1.3,1.8" fill="none"/><line x1="57.00" y1="373.92" x2="139.40" y2="304.32" stroke="#8e7379" stroke-width="0.95" stroke-dasharray="1.3,1.8" fill="none"/><line x1="57.00" y1="353.40" x2="139.40" y2="283.80" stroke="#8e7379" stroke-width="0.95" stroke-dasharray="1.3,1.8" fill="none"/><line x1="57.00" y1="456.00" x2="139.40" y2="386.40" stroke="#8e7379" stroke-width="0.95" stroke-dasharray="1.3,1.8" fill="none"/><line x1="112.06" y1="458.07" x2="194.46" y2="388.47" stroke="#8e7379" stroke-width="0.95" stroke-dasharray="1.3,1.8" fill="none"/><line x1="167.12" y1="460.14" x2="249.52" y2="390.54" stroke="#8e7379" stroke-width="0.95" stroke-dasharray="1.3,1.8" fill="none"/><line x1="222.18" y1="462.21" x2="304.58" y2="392.61" stroke="#8e7379" stroke-width="0.95" stroke-dasharray="1.3,1.8" fill="none"/><line x1="277.24" y1="464.28" x2="359.64" y2="394.68" stroke="#8e7379" stroke-width="0.95" stroke-dasharray="1.3,1.8" fill="none"/><line x1="332.30" y1="466.35" x2="414.70" y2="396.75" stroke="#8e7379" stroke-width="0.95" stroke-dasharray="1.3,1.8" fill="none"/><line x1="387.36" y1="468.42" x2="469.76" y2="398.82" stroke="#8e7379" stroke-width="0.95" stroke-dasharray="1.3,1.8" fill="none"/><line x1="70.73" y1="444.40" x2="456.15" y2="458.89" stroke="#8e7379" stroke-width="0.95" stroke-dasharray="1.3,1.8" fill="none"/><line x1="84.47" y1="432.80" x2="469.89" y2="447.29" stroke="#8e7379" stroke-width="0.95" stroke-dasharray="1.3,1.8" fill="none"/><line x1="98.20" y1="421.20" x2="483.62" y2="435.69" stroke="#8e7379" stroke-width="0.95" stroke-dasharray="1.3,1.8" fill="none"/><line x1="111.93" y1="409.60" x2="497.35" y2="424.09" stroke="#8e7379" stroke-width="0.95" stroke-dasharray="1.3,1.8" fill="none"/><line x1="125.67" y1="398.00" x2="511.09" y2="412.49" stroke="#8e7379" stroke-width="0.95" stroke-dasharray="1.3,1.8" fill="none"/><line x1="139.40" y1="386.40" x2="524.82" y2="400.89" stroke="#8e7379" stroke-width="0.95" stroke-dasharray="1.3,1.8" fill="none"/><line x1="57.00" y1="456.00" x2="57.00" y2="353.40" stroke="#111" stroke-width="1.6" stroke-linecap="butt"/><line x1="47.50" y1="456.00" x2="57.00" y2="456.00" stroke="#111" stroke-width="1.6" stroke-linecap="butt"/><text x="45.0" y="460.6" font-size="13" text-anchor="end">0</text><line x1="47.50" y1="435.48" x2="57.00" y2="435.48" stroke="#111" stroke-width="1.6" stroke-linecap="butt"/><text x="45.0" y="440.1" font-size="13" text-anchor="end">0.2</text><line x1="47.50" y1="414.96" x2="57.00" y2="414.96" stroke="#111" stroke-width="1.6" stroke-linecap="butt"/><text x="45.0" y="419.6" font-size="13" text-anchor="end">0.4</text><line x1="47.50" y1="394.44" x2="57.00" y2="394.44" stroke="#111" stroke-width="1.6" stroke-linecap="butt"/><text x="45.0" y="399.0" font-size="13" text-anchor="end">0.6</text><line x1="47.50" y1="373.92" x2="57.00" y2="373.92" stroke="#111" stroke-width="1.6" stroke-linecap="butt"/><text x="45.0" y="378.5" font-size="13" text-anchor="end">0.8</text><line x1="47.50" y1="353.40" x2="57.00" y2="353.40" stroke="#111" stroke-width="1.6" stroke-linecap="butt"/><text x="45.0" y="358.0" font-size="13" text-anchor="end">1</text><line x1="57.00" y1="456.00" x2="442.42" y2="470.49" stroke="#111" stroke-width="1.6" stroke-linecap="butt"/><line x1="57.00" y1="456.00" x2="49.40" y2="462.45" stroke="#111" stroke-width="1.6" stroke-linecap="butt"/><text x="43.8" y="478.0" font-size="12" text-anchor="middle">1</text><line x1="112.06" y1="458.07" x2="104.46" y2="464.52" stroke="#111" stroke-width="1.6" stroke-linecap="butt"/><text x="98.9" y="480.1" font-size="12" text-anchor="middle">2</text><line x1="167.12" y1="460.14" x2="159.52" y2="466.59" stroke="#111" stroke-width="1.6" stroke-linecap="butt"/><text x="153.9" y="482.1" font-size="12" text-anchor="middle">3</text><line x1="222.18" y1="462.21" x2="214.58" y2="468.66" stroke="#111" stroke-width="1.6" stroke-linecap="butt"/><text x="209.0" y="484.2" font-size="12" text-anchor="middle">4</text><line x1="277.24" y1="464.28" x2="269.64" y2="470.73" stroke="#111" stroke-width="1.6" stroke-linecap="butt"/><text x="264.0" y="486.3" font-size="12" text-anchor="middle">5</text><line x1="332.30" y1="466.35" x2="324.70" y2="472.80" stroke="#111" stroke-width="1.6" stroke-linecap="butt"/><text x="319.1" y="488.4" font-size="12" text-anchor="middle">6</text><line x1="387.36" y1="468.42" x2="379.76" y2="474.87" stroke="#111" stroke-width="1.6" stroke-linecap="butt"/><text x="374.2" y="490.4" font-size="12" text-anchor="middle">7</text><line x1="442.42" y1="470.49" x2="434.82" y2="476.94" stroke="#111" stroke-width="1.6" stroke-linecap="butt"/><text x="429.2" y="492.5" font-size="12" text-anchor="middle">8</text><line x1="442.42" y1="470.49" x2="524.82" y2="400.89" stroke="#111" stroke-width="1.6" stroke-linecap="butt"/><line x1="442.42" y1="470.49" x2="452.42" y2="470.85" stroke="#111" stroke-width="1.6" stroke-linecap="butt"/><text x="456.9" y="483.7" font-size="12">-90</text><line x1="456.15" y1="458.89" x2="466.15" y2="459.25" stroke="#111" stroke-width="1.6" stroke-linecap="butt"/><text x="470.7" y="472.1" font-size="12">-60</text><line x1="469.89" y1="447.29" x2="479.89" y2="447.65" stroke="#111" stroke-width="1.6" stroke-linecap="butt"/><text x="484.4" y="460.5" font-size="12">-30</text><line x1="483.62" y1="435.69" x2="493.62" y2="436.05" stroke="#111" stroke-width="1.6" stroke-linecap="butt"/><text x="498.1" y="448.9" font-size="12">0</text><line x1="497.35" y1="424.09" x2="507.35" y2="424.45" stroke="#111" stroke-width="1.6" stroke-linecap="butt"/><text x="511.9" y="437.3" font-size="12">30</text><line x1="511.09" y1="412.49" x2="521.09" y2="412.85" stroke="#111" stroke-width="1.6" stroke-linecap="butt"/><text x="525.6" y="425.7" font-size="12">60</text><line x1="524.82" y1="400.89" x2="534.82" y2="401.25" stroke="#111" stroke-width="1.6" stroke-linecap="butt"/><text x="539.3" y="414.1" font-size="12">90</text><path d="M57.40,455.00 C58.00,454.00 59.82,450.92 61.00,449.00 C62.18,447.08 63.12,446.00 64.50,443.50 C65.88,441.00 67.72,437.30 69.30,434.00 C70.88,430.70 72.82,425.95 74.00,423.70 C75.18,421.45 75.60,420.85 76.40,420.50 C77.20,420.15 78.20,423.18 78.80,421.60 C79.40,420.02 79.63,417.10 80.00,411.00 C80.37,404.90 80.70,394.33 81.00,385.00 C81.30,375.67 81.48,362.22 81.80,355.00 C82.12,347.78 82.50,342.20 82.90,341.70 C83.30,341.20 83.85,343.12 84.20,352.00 C84.55,360.88 84.73,382.67 85.00,395.00 C85.27,407.33 85.43,425.50 85.80,426.00 C86.17,426.50 86.75,406.43 87.20,398.00 C87.65,389.57 88.10,375.90 88.50,375.40 C88.90,374.90 89.23,388.57 89.60,395.00 C89.97,401.43 90.22,414.83 90.70,414.00 C91.18,413.17 91.90,391.33 92.50,390.00 C93.10,388.67 93.68,405.83 94.30,406.00 C94.92,406.17 95.55,392.17 96.20,391.00 C96.85,389.83 97.65,399.83 98.20,399.00 C98.75,398.17 99.03,387.83 99.50,386.00 C99.97,384.17 100.48,386.00 101.00,388.00 C101.52,390.00 102.02,395.33 102.60,398.00 C103.18,400.67 103.93,406.17 104.50,404.00 C105.07,401.83 105.55,392.57 106.00,385.00 C106.45,377.43 106.77,358.60 107.20,358.60 C107.63,358.60 108.17,377.27 108.60,385.00 C109.03,392.73 109.37,407.50 109.80,405.00 C110.23,402.50 110.77,382.50 111.20,370.00 C111.63,357.50 112.07,339.02 112.40,330.00 C112.73,320.98 112.90,316.23 113.20,315.90 C113.50,315.57 113.87,322.32 114.20,328.00 C114.53,333.68 114.87,343.33 115.20,350.00 C115.53,356.67 115.82,362.17 116.20,368.00 C116.58,373.83 117.03,382.00 117.50,385.00 C117.97,388.00 118.38,386.43 119.00,386.00 C119.62,385.57 120.45,382.35 121.20,382.40 C121.95,382.45 122.28,386.13 123.50,386.30 C124.72,386.47 126.68,383.55 128.50,383.40 C130.32,383.25 132.58,385.07 134.40,385.40 C136.22,385.73 138.57,385.40 139.40,385.40" fill="none" stroke="#f2b4a2" stroke-opacity="0.7" stroke-width="4.8" stroke-linejoin="round" stroke-linecap="round"/><path d="M57.40,455.00 C58.00,454.00 59.82,450.92 61.00,449.00 C62.18,447.08 63.12,446.00 64.50,443.50 C65.88,441.00 67.72,437.30 69.30,434.00 C70.88,430.70 72.82,425.95 74.00,423.70 C75.18,421.45 75.60,420.85 76.40,420.50 C77.20,420.15 78.20,423.18 78.80,421.60 C79.40,420.02 79.63,417.10 80.00,411.00 C80.37,404.90 80.70,394.33 81.00,385.00 C81.30,375.67 81.48,362.22 81.80,355.00 C82.12,347.78 82.50,342.20 82.90,341.70 C83.30,341.20 83.85,343.12 84.20,352.00 C84.55,360.88 84.73,382.67 85.00,395.00 C85.27,407.33 85.43,425.50 85.80,426.00 C86.17,426.50 86.75,406.43 87.20,398.00 C87.65,389.57 88.10,375.90 88.50,375.40 C88.90,374.90 89.23,388.57 89.60,395.00 C89.97,401.43 90.22,414.83 90.70,414.00 C91.18,413.17 91.90,391.33 92.50,390.00 C93.10,388.67 93.68,405.83 94.30,406.00 C94.92,406.17 95.55,392.17 96.20,391.00 C96.85,389.83 97.65,399.83 98.20,399.00 C98.75,398.17 99.03,387.83 99.50,386.00 C99.97,384.17 100.48,386.00 101.00,388.00 C101.52,390.00 102.02,395.33 102.60,398.00 C103.18,400.67 103.93,406.17 104.50,404.00 C105.07,401.83 105.55,392.57 106.00,385.00 C106.45,377.43 106.77,358.60 107.20,358.60 C107.63,358.60 108.17,377.27 108.60,385.00 C109.03,392.73 109.37,407.50 109.80,405.00 C110.23,402.50 110.77,382.50 111.20,370.00 C111.63,357.50 112.07,339.02 112.40,330.00 C112.73,320.98 112.90,316.23 113.20,315.90 C113.50,315.57 113.87,322.32 114.20,328.00 C114.53,333.68 114.87,343.33 115.20,350.00 C115.53,356.67 115.82,362.17 116.20,368.00 C116.58,373.83 117.03,382.00 117.50,385.00 C117.97,388.00 118.38,386.43 119.00,386.00 C119.62,385.57 120.45,382.35 121.20,382.40 C121.95,382.45 122.28,386.13 123.50,386.30 C124.72,386.47 126.68,383.55 128.50,383.40 C130.32,383.25 132.58,385.07 134.40,385.40 C136.22,385.73 138.57,385.40 139.40,385.40" fill="none" stroke="#1b73c6" stroke-width="3" stroke-linejoin="round" stroke-linecap="round"/><path d="M112.00,457.70 C112.92,456.35 115.68,452.73 117.50,449.60 C119.32,446.47 121.12,442.77 122.90,438.90 C124.68,435.03 126.72,430.87 128.20,426.40 C129.68,421.93 130.75,416.85 131.80,412.10 C132.85,407.35 133.62,402.65 134.50,397.90 C135.38,393.15 136.27,388.85 137.10,383.60 C137.93,378.35 138.68,365.17 139.50,366.40 C140.32,367.63 141.17,389.80 142.00,391.00 C142.83,392.20 143.77,369.27 144.50,373.60 C145.23,377.93 145.60,417.30 146.40,417.00 C147.20,416.70 148.47,373.30 149.30,371.80 C150.13,370.30 150.72,406.82 151.40,408.00 C152.08,409.18 152.77,379.23 153.40,378.90 C154.03,378.57 154.55,408.38 155.20,406.00 C155.85,403.62 156.58,365.60 157.30,364.60 C158.02,363.60 158.75,401.03 159.50,400.00 C160.25,398.97 161.07,363.10 161.80,358.40 C162.53,353.70 163.02,374.48 163.90,371.80 C164.78,369.12 166.12,344.98 167.10,342.30 C168.08,339.62 168.90,350.78 169.80,355.70 C170.70,360.62 171.47,367.33 172.50,371.80 C173.53,376.27 174.95,379.38 176.00,382.50 C177.05,385.62 177.65,388.32 178.80,390.50 C179.95,392.68 181.68,395.55 182.90,395.60 C184.12,395.65 185.03,392.40 186.10,390.80 C187.17,389.20 188.07,386.63 189.30,386.00 C190.53,385.37 192.80,386.83 193.50,387.00" fill="none" stroke="#f2b4a2" stroke-opacity="0.7" stroke-width="4.8" stroke-linejoin="round" stroke-linecap="round"/><path d="M112.00,457.70 C112.92,456.35 115.68,452.73 117.50,449.60 C119.32,446.47 121.12,442.77 122.90,438.90 C124.68,435.03 126.72,430.87 128.20,426.40 C129.68,421.93 130.75,416.85 131.80,412.10 C132.85,407.35 133.62,402.65 134.50,397.90 C135.38,393.15 136.27,388.85 137.10,383.60 C137.93,378.35 138.68,365.17 139.50,366.40 C140.32,367.63 141.17,389.80 142.00,391.00 C142.83,392.20 143.77,369.27 144.50,373.60 C145.23,377.93 145.60,417.30 146.40,417.00 C147.20,416.70 148.47,373.30 149.30,371.80 C150.13,370.30 150.72,406.82 151.40,408.00 C152.08,409.18 152.77,379.23 153.40,378.90 C154.03,378.57 154.55,408.38 155.20,406.00 C155.85,403.62 156.58,365.60 157.30,364.60 C158.02,363.60 158.75,401.03 159.50,400.00 C160.25,398.97 161.07,363.10 161.80,358.40 C162.53,353.70 163.02,374.48 163.90,371.80 C164.78,369.12 166.12,344.98 167.10,342.30 C168.08,339.62 168.90,350.78 169.80,355.70 C170.70,360.62 171.47,367.33 172.50,371.80 C173.53,376.27 174.95,379.38 176.00,382.50 C177.05,385.62 177.65,388.32 178.80,390.50 C179.95,392.68 181.68,395.55 182.90,395.60 C184.12,395.65 185.03,392.40 186.10,390.80 C187.17,389.20 188.07,386.63 189.30,386.00 C190.53,385.37 192.80,386.83 193.50,387.00" fill="none" stroke="#e5561b" stroke-width="3" stroke-linejoin="round" stroke-linecap="round"/><path d="M167.50,458.60 C168.25,457.40 170.53,455.28 172.00,451.40 C173.47,447.52 174.92,440.10 176.30,435.30 C177.68,430.50 179.10,422.73 180.30,422.60 C181.50,422.47 182.57,437.15 183.50,434.50 C184.43,431.85 185.23,414.50 185.90,406.70 C186.57,398.90 186.98,391.13 187.50,387.70 C188.02,384.27 188.35,386.10 189.00,386.10 C189.65,386.10 190.60,389.02 191.40,387.70 C192.20,386.38 193.00,377.67 193.80,378.20 C194.60,378.73 195.40,385.35 196.20,390.90 C197.00,396.45 197.93,405.95 198.60,411.50 C199.27,417.05 199.55,425.52 200.20,424.20 C200.85,422.88 201.85,403.87 202.50,403.60 C203.15,403.33 203.43,425.52 204.10,422.60 C204.77,419.68 205.78,385.57 206.50,386.10 C207.22,386.63 207.65,426.60 208.40,425.80 C209.15,425.00 210.25,383.15 211.00,381.30 C211.75,379.45 212.27,412.83 212.90,414.70 C213.53,416.57 214.15,392.77 214.80,392.50 C215.45,392.23 216.03,414.18 216.80,413.10 C217.57,412.02 218.70,393.15 219.40,386.00 C220.10,378.85 220.47,375.75 221.00,370.20 C221.53,364.65 221.85,354.43 222.60,352.70 C223.35,350.97 224.62,359.67 225.50,359.80 C226.38,359.93 227.05,351.52 227.90,353.50 C228.75,355.48 229.77,364.95 230.60,371.70 C231.43,378.45 232.12,392.67 232.90,394.00 C233.68,395.33 234.58,383.02 235.30,379.70 C236.02,376.38 236.40,373.83 237.20,374.10 C238.00,374.37 239.08,379.05 240.10,381.30 C241.12,383.55 242.12,386.15 243.30,387.60 C244.48,389.05 246.25,389.60 247.20,390.00 C248.15,390.40 248.70,390.00 249.00,390.00" fill="none" stroke="#f2b4a2" stroke-opacity="0.7" stroke-width="4.8" stroke-linejoin="round" stroke-linecap="round"/><path d="M167.50,458.60 C168.25,457.40 170.53,455.28 172.00,451.40 C173.47,447.52 174.92,440.10 176.30,435.30 C177.68,430.50 179.10,422.73 180.30,422.60 C181.50,422.47 182.57,437.15 183.50,434.50 C184.43,431.85 185.23,414.50 185.90,406.70 C186.57,398.90 186.98,391.13 187.50,387.70 C188.02,384.27 188.35,386.10 189.00,386.10 C189.65,386.10 190.60,389.02 191.40,387.70 C192.20,386.38 193.00,377.67 193.80,378.20 C194.60,378.73 195.40,385.35 196.20,390.90 C197.00,396.45 197.93,405.95 198.60,411.50 C199.27,417.05 199.55,425.52 200.20,424.20 C200.85,422.88 201.85,403.87 202.50,403.60 C203.15,403.33 203.43,425.52 204.10,422.60 C204.77,419.68 205.78,385.57 206.50,386.10 C207.22,386.63 207.65,426.60 208.40,425.80 C209.15,425.00 210.25,383.15 211.00,381.30 C211.75,379.45 212.27,412.83 212.90,414.70 C213.53,416.57 214.15,392.77 214.80,392.50 C215.45,392.23 216.03,414.18 216.80,413.10 C217.57,412.02 218.70,393.15 219.40,386.00 C220.10,378.85 220.47,375.75 221.00,370.20 C221.53,364.65 221.85,354.43 222.60,352.70 C223.35,350.97 224.62,359.67 225.50,359.80 C226.38,359.93 227.05,351.52 227.90,353.50 C228.75,355.48 229.77,364.95 230.60,371.70 C231.43,378.45 232.12,392.67 232.90,394.00 C233.68,395.33 234.58,383.02 235.30,379.70 C236.02,376.38 236.40,373.83 237.20,374.10 C238.00,374.37 239.08,379.05 240.10,381.30 C241.12,383.55 242.12,386.15 243.30,387.60 C244.48,389.05 246.25,389.60 247.20,390.00 C248.15,390.40 248.70,390.00 249.00,390.00" fill="none" stroke="#f6b817" stroke-width="3" stroke-linejoin="round" stroke-linecap="round"/><path d="M222.10,462.00 C223.15,460.90 226.60,458.30 228.40,455.40 C230.20,452.50 231.72,447.28 232.90,444.60 C234.08,441.92 234.73,440.07 235.50,439.30 C236.27,438.53 236.75,442.38 237.50,440.00 C238.25,437.62 239.28,427.80 240.00,425.00 C240.72,422.20 241.27,421.20 241.80,423.20 C242.33,425.20 242.70,442.53 243.20,437.00 C243.70,431.47 244.33,404.50 244.80,390.00 C245.27,375.50 245.55,358.75 246.00,350.00 C246.45,341.25 247.00,337.50 247.50,337.50 C248.00,337.50 248.55,341.25 249.00,350.00 C249.45,358.75 249.77,375.72 250.20,390.00 C250.63,404.28 251.07,431.05 251.60,435.70 C252.13,440.35 252.83,419.85 253.40,417.90 C253.97,415.95 254.40,423.42 255.00,424.00 C255.60,424.58 256.23,420.93 257.00,421.40 C257.77,421.87 258.72,426.20 259.60,426.80 C260.48,427.40 261.40,425.90 262.30,425.00 C263.20,424.10 263.95,422.90 265.00,421.40 C266.05,419.90 267.55,417.78 268.60,416.00 C269.65,414.22 270.57,413.07 271.30,410.70 C272.03,408.33 272.42,401.25 273.00,401.80 C273.58,402.35 274.30,415.97 274.80,414.00 C275.30,412.03 275.53,404.00 276.00,390.00 C276.47,376.00 277.08,343.22 277.60,330.00 C278.12,316.78 278.60,310.70 279.10,310.70 C279.60,310.70 280.07,316.78 280.60,330.00 C281.13,343.22 281.78,377.17 282.30,390.00 C282.82,402.83 283.15,407.82 283.75,407.00 C284.35,406.18 285.02,386.90 285.90,385.10 C286.77,383.30 288.02,394.90 289.00,396.20 C289.98,397.50 291.00,393.83 291.80,392.90 C292.60,391.97 292.80,390.32 293.80,390.60 C294.80,390.88 296.77,394.28 297.80,394.60 C298.83,394.92 299.08,392.90 300.00,392.50 C300.92,392.10 302.75,392.25 303.30,392.20" fill="none" stroke="#f2b4a2" stroke-opacity="0.7" stroke-width="4.8" stroke-linejoin="round" stroke-linecap="round"/><path d="M222.10,462.00 C223.15,460.90 226.60,458.30 228.40,455.40 C230.20,452.50 231.72,447.28 232.90,444.60 C234.08,441.92 234.73,440.07 235.50,439.30 C236.27,438.53 236.75,442.38 237.50,440.00 C238.25,437.62 239.28,427.80 240.00,425.00 C240.72,422.20 241.27,421.20 241.80,423.20 C242.33,425.20 242.70,442.53 243.20,437.00 C243.70,431.47 244.33,404.50 244.80,390.00 C245.27,375.50 245.55,358.75 246.00,350.00 C246.45,341.25 247.00,337.50 247.50,337.50 C248.00,337.50 248.55,341.25 249.00,350.00 C249.45,358.75 249.77,375.72 250.20,390.00 C250.63,404.28 251.07,431.05 251.60,435.70 C252.13,440.35 252.83,419.85 253.40,417.90 C253.97,415.95 254.40,423.42 255.00,424.00 C255.60,424.58 256.23,420.93 257.00,421.40 C257.77,421.87 258.72,426.20 259.60,426.80 C260.48,427.40 261.40,425.90 262.30,425.00 C263.20,424.10 263.95,422.90 265.00,421.40 C266.05,419.90 267.55,417.78 268.60,416.00 C269.65,414.22 270.57,413.07 271.30,410.70 C272.03,408.33 272.42,401.25 273.00,401.80 C273.58,402.35 274.30,415.97 274.80,414.00 C275.30,412.03 275.53,404.00 276.00,390.00 C276.47,376.00 277.08,343.22 277.60,330.00 C278.12,316.78 278.60,310.70 279.10,310.70 C279.60,310.70 280.07,316.78 280.60,330.00 C281.13,343.22 281.78,377.17 282.30,390.00 C282.82,402.83 283.15,407.82 283.75,407.00 C284.35,406.18 285.02,386.90 285.90,385.10 C286.77,383.30 288.02,394.90 289.00,396.20 C289.98,397.50 291.00,393.83 291.80,392.90 C292.60,391.97 292.80,390.32 293.80,390.60 C294.80,390.88 296.77,394.28 297.80,394.60 C298.83,394.92 299.08,392.90 300.00,392.50 C300.92,392.10 302.75,392.25 303.30,392.20" fill="none" stroke="#7a2a9c" stroke-width="3" stroke-linejoin="round" stroke-linecap="round"/><path d="M277.40,463.60 C278.13,461.82 280.32,456.18 281.80,452.90 C283.28,449.62 284.95,443.90 286.30,443.90 C287.65,443.90 288.87,455.28 289.90,452.90 C290.93,450.52 291.77,435.27 292.50,429.60 C293.23,423.93 293.55,416.37 294.30,418.90 C295.05,421.43 296.25,447.47 297.00,444.80 C297.75,442.13 298.27,414.53 298.80,402.90 C299.33,391.27 299.72,382.07 300.20,375.00 C300.68,367.93 301.20,360.50 301.70,360.50 C302.20,360.50 302.65,368.42 303.20,375.00 C303.75,381.58 304.37,391.67 305.00,400.00 C305.63,408.33 306.25,418.87 307.00,425.00 C307.75,431.13 308.63,438.55 309.50,436.80 C310.37,435.05 311.37,415.55 312.20,414.50 C313.03,413.45 313.77,431.25 314.50,430.50 C315.23,429.75 315.95,410.43 316.60,410.00 C317.25,409.57 317.73,428.65 318.40,427.90 C319.07,427.15 319.85,406.40 320.60,405.50 C321.35,404.60 322.13,422.93 322.90,422.50 C323.67,422.07 324.40,403.20 325.20,402.90 C326.00,402.60 326.75,423.68 327.70,420.70 C328.65,417.72 330.02,396.78 330.90,385.00 C331.78,373.22 332.25,358.93 333.00,350.00 C333.75,341.07 334.65,331.40 335.40,331.40 C336.15,331.40 336.77,337.27 337.50,350.00 C338.23,362.73 338.90,403.20 339.80,407.80 C340.70,412.40 341.72,378.40 342.90,377.60 C344.08,376.80 345.57,401.15 346.90,403.00 C348.23,404.85 349.72,390.70 350.90,388.70 C352.08,386.70 352.65,390.12 354.00,391.00 C355.35,391.88 358.17,393.50 359.00,394.00" fill="none" stroke="#f2b4a2" stroke-opacity="0.7" stroke-width="4.8" stroke-linejoin="round" stroke-linecap="round"/><path d="M277.40,463.60 C278.13,461.82 280.32,456.18 281.80,452.90 C283.28,449.62 284.95,443.90 286.30,443.90 C287.65,443.90 288.87,455.28 289.90,452.90 C290.93,450.52 291.77,435.27 292.50,429.60 C293.23,423.93 293.55,416.37 294.30,418.90 C295.05,421.43 296.25,447.47 297.00,444.80 C297.75,442.13 298.27,414.53 298.80,402.90 C299.33,391.27 299.72,382.07 300.20,375.00 C300.68,367.93 301.20,360.50 301.70,360.50 C302.20,360.50 302.65,368.42 303.20,375.00 C303.75,381.58 304.37,391.67 305.00,400.00 C305.63,408.33 306.25,418.87 307.00,425.00 C307.75,431.13 308.63,438.55 309.50,436.80 C310.37,435.05 311.37,415.55 312.20,414.50 C313.03,413.45 313.77,431.25 314.50,430.50 C315.23,429.75 315.95,410.43 316.60,410.00 C317.25,409.57 317.73,428.65 318.40,427.90 C319.07,427.15 319.85,406.40 320.60,405.50 C321.35,404.60 322.13,422.93 322.90,422.50 C323.67,422.07 324.40,403.20 325.20,402.90 C326.00,402.60 326.75,423.68 327.70,420.70 C328.65,417.72 330.02,396.78 330.90,385.00 C331.78,373.22 332.25,358.93 333.00,350.00 C333.75,341.07 334.65,331.40 335.40,331.40 C336.15,331.40 336.77,337.27 337.50,350.00 C338.23,362.73 338.90,403.20 339.80,407.80 C340.70,412.40 341.72,378.40 342.90,377.60 C344.08,376.80 345.57,401.15 346.90,403.00 C348.23,404.85 349.72,390.70 350.90,388.70 C352.08,386.70 352.65,390.12 354.00,391.00 C355.35,391.88 358.17,393.50 359.00,394.00" fill="none" stroke="#76b52b" stroke-width="3" stroke-linejoin="round" stroke-linecap="round"/><path d="M331.80,466.80 C332.68,464.12 335.32,455.17 337.10,450.70 C338.88,446.23 341.00,442.43 342.50,440.00 C344.00,437.57 345.06,436.63 346.10,436.10 C347.14,435.57 348.02,437.19 348.75,436.80 C349.48,436.41 349.81,432.18 350.50,433.75 C351.19,435.32 352.15,450.56 352.90,446.25 C353.65,441.94 354.40,419.77 355.00,407.90 C355.60,396.02 356.05,382.57 356.50,375.00 C356.95,367.43 357.28,362.50 357.70,362.50 C358.12,362.50 358.55,369.58 359.00,375.00 C359.45,380.42 359.93,386.25 360.40,395.00 C360.87,403.75 361.22,424.77 361.80,427.50 C362.38,430.23 363.25,416.02 363.90,411.40 C364.55,406.78 365.03,398.70 365.70,399.80 C366.37,400.90 367.15,418.73 367.90,418.00 C368.65,417.27 369.22,393.07 370.20,395.40 C371.18,397.73 372.72,430.52 373.75,432.00 C374.78,433.48 375.66,411.30 376.40,404.30 C377.14,397.30 377.60,390.38 378.20,390.00 C378.80,389.62 379.27,402.50 380.00,402.00 C380.73,401.50 381.56,386.02 382.60,387.00 C383.64,387.98 385.32,412.40 386.25,407.90 C387.18,403.40 387.61,372.18 388.20,360.00 C388.79,347.82 389.25,335.63 389.80,334.80 C390.35,333.97 390.85,347.87 391.50,355.00 C392.15,362.13 393.03,370.43 393.70,377.60 C394.37,384.77 394.87,394.93 395.50,398.00 C396.13,401.07 396.83,397.17 397.50,396.00 C398.17,394.83 398.53,392.62 399.50,391.00 C400.47,389.38 401.88,386.15 403.30,386.30 C404.72,386.45 406.30,390.37 408.00,391.90 C409.70,393.43 412.58,394.90 413.50,395.50" fill="none" stroke="#f2b4a2" stroke-opacity="0.7" stroke-width="4.8" stroke-linejoin="round" stroke-linecap="round"/><path d="M331.80,466.80 C332.68,464.12 335.32,455.17 337.10,450.70 C338.88,446.23 341.00,442.43 342.50,440.00 C344.00,437.57 345.06,436.63 346.10,436.10 C347.14,435.57 348.02,437.19 348.75,436.80 C349.48,436.41 349.81,432.18 350.50,433.75 C351.19,435.32 352.15,450.56 352.90,446.25 C353.65,441.94 354.40,419.77 355.00,407.90 C355.60,396.02 356.05,382.57 356.50,375.00 C356.95,367.43 357.28,362.50 357.70,362.50 C358.12,362.50 358.55,369.58 359.00,375.00 C359.45,380.42 359.93,386.25 360.40,395.00 C360.87,403.75 361.22,424.77 361.80,427.50 C362.38,430.23 363.25,416.02 363.90,411.40 C364.55,406.78 365.03,398.70 365.70,399.80 C366.37,400.90 367.15,418.73 367.90,418.00 C368.65,417.27 369.22,393.07 370.20,395.40 C371.18,397.73 372.72,430.52 373.75,432.00 C374.78,433.48 375.66,411.30 376.40,404.30 C377.14,397.30 377.60,390.38 378.20,390.00 C378.80,389.62 379.27,402.50 380.00,402.00 C380.73,401.50 381.56,386.02 382.60,387.00 C383.64,387.98 385.32,412.40 386.25,407.90 C387.18,403.40 387.61,372.18 388.20,360.00 C388.79,347.82 389.25,335.63 389.80,334.80 C390.35,333.97 390.85,347.87 391.50,355.00 C392.15,362.13 393.03,370.43 393.70,377.60 C394.37,384.77 394.87,394.93 395.50,398.00 C396.13,401.07 396.83,397.17 397.50,396.00 C398.17,394.83 398.53,392.62 399.50,391.00 C400.47,389.38 401.88,386.15 403.30,386.30 C404.72,386.45 406.30,390.37 408.00,391.90 C409.70,393.43 412.58,394.90 413.50,395.50" fill="none" stroke="#4dc3f1" stroke-width="3" stroke-linejoin="round" stroke-linecap="round"/><path d="M387.10,468.60 C388.00,466.50 390.85,459.43 392.50,456.00 C394.15,452.57 395.67,448.88 397.00,448.00 C398.33,447.12 399.47,451.58 400.50,450.70 C401.53,449.82 402.40,444.78 403.20,442.70 C404.00,440.62 404.50,437.90 405.30,438.20 C406.10,438.50 407.20,448.08 408.00,444.50 C408.80,440.92 409.48,425.03 410.10,416.70 C410.72,408.37 411.22,402.28 411.70,394.50 C412.18,386.72 412.57,375.58 413.00,370.00 C413.43,364.42 413.87,360.17 414.30,361.00 C414.73,361.83 415.15,368.50 415.60,375.00 C416.05,381.50 416.47,390.53 417.00,400.00 C417.53,409.47 418.02,431.80 418.80,431.80 C419.58,431.80 420.85,399.73 421.70,400.00 C422.55,400.27 423.12,434.72 423.90,433.40 C424.68,432.08 425.60,392.23 426.40,392.10 C427.20,391.97 427.90,433.25 428.70,432.60 C429.50,431.95 430.33,389.52 431.20,388.20 C432.07,386.88 433.00,424.70 433.90,424.70 C434.80,424.70 435.80,390.05 436.60,388.20 C437.40,386.35 438.05,416.63 438.70,413.60 C439.35,410.57 439.98,381.43 440.50,370.00 C441.02,358.57 441.35,350.62 441.80,345.00 C442.25,339.38 442.70,336.30 443.20,336.30 C443.70,336.30 444.07,338.12 444.80,345.00 C445.53,351.88 446.82,367.27 447.60,377.60 C448.38,387.93 448.73,403.67 449.50,407.00 C450.27,410.33 451.12,398.22 452.20,397.60 C453.28,396.98 454.73,403.90 456.00,403.30 C457.27,402.70 458.42,395.42 459.80,394.00 C461.18,392.58 462.68,394.07 464.30,394.80 C465.92,395.53 468.63,397.80 469.50,398.40" fill="none" stroke="#f2b4a2" stroke-opacity="0.7" stroke-width="4.8" stroke-linejoin="round" stroke-linecap="round"/><path d="M387.10,468.60 C388.00,466.50 390.85,459.43 392.50,456.00 C394.15,452.57 395.67,448.88 397.00,448.00 C398.33,447.12 399.47,451.58 400.50,450.70 C401.53,449.82 402.40,444.78 403.20,442.70 C404.00,440.62 404.50,437.90 405.30,438.20 C406.10,438.50 407.20,448.08 408.00,444.50 C408.80,440.92 409.48,425.03 410.10,416.70 C410.72,408.37 411.22,402.28 411.70,394.50 C412.18,386.72 412.57,375.58 413.00,370.00 C413.43,364.42 413.87,360.17 414.30,361.00 C414.73,361.83 415.15,368.50 415.60,375.00 C416.05,381.50 416.47,390.53 417.00,400.00 C417.53,409.47 418.02,431.80 418.80,431.80 C419.58,431.80 420.85,399.73 421.70,400.00 C422.55,400.27 423.12,434.72 423.90,433.40 C424.68,432.08 425.60,392.23 426.40,392.10 C427.20,391.97 427.90,433.25 428.70,432.60 C429.50,431.95 430.33,389.52 431.20,388.20 C432.07,386.88 433.00,424.70 433.90,424.70 C434.80,424.70 435.80,390.05 436.60,388.20 C437.40,386.35 438.05,416.63 438.70,413.60 C439.35,410.57 439.98,381.43 440.50,370.00 C441.02,358.57 441.35,350.62 441.80,345.00 C442.25,339.38 442.70,336.30 443.20,336.30 C443.70,336.30 444.07,338.12 444.80,345.00 C445.53,351.88 446.82,367.27 447.60,377.60 C448.38,387.93 448.73,403.67 449.50,407.00 C450.27,410.33 451.12,398.22 452.20,397.60 C453.28,396.98 454.73,403.90 456.00,403.30 C457.27,402.70 458.42,395.42 459.80,394.00 C461.18,392.58 462.68,394.07 464.30,394.80 C465.92,395.53 468.63,397.80 469.50,398.40" fill="none" stroke="#ad1530" stroke-width="3" stroke-linejoin="round" stroke-linecap="round"/><path d="M443.00,468.80 C443.87,467.93 446.68,466.98 448.20,463.60 C449.72,460.22 450.78,451.55 452.10,448.50 C453.42,445.45 454.90,448.48 456.10,445.30 C457.30,442.12 458.37,435.48 459.30,429.40 C460.23,423.32 461.03,410.12 461.70,408.80 C462.37,407.48 462.78,415.28 463.30,421.50 C463.82,427.72 464.15,450.52 464.80,446.10 C465.45,441.68 466.62,407.35 467.20,395.00 C467.78,382.65 467.93,377.13 468.30,372.00 C468.67,366.87 469.03,364.20 469.40,364.20 C469.77,364.20 470.10,366.87 470.50,372.00 C470.90,377.13 471.28,386.75 471.80,395.00 C472.32,403.25 472.90,417.67 473.60,421.50 C474.30,425.33 475.08,415.88 476.00,418.00 C476.92,420.12 478.05,434.67 479.10,434.20 C480.15,433.73 481.40,417.90 482.30,415.20 C483.20,412.50 483.57,416.02 484.50,418.00 C485.43,419.98 486.82,428.63 487.90,427.10 C488.98,425.57 490.08,412.38 491.00,408.80 C491.92,405.22 492.70,410.40 493.40,405.60 C494.10,400.80 494.60,390.10 495.20,380.00 C495.80,369.90 496.43,351.83 497.00,345.00 C497.57,338.17 498.07,339.00 498.60,339.00 C499.13,339.00 499.75,338.17 500.20,345.00 C500.65,351.83 500.93,368.50 501.30,380.00 C501.67,391.50 501.95,413.17 502.40,414.00 C502.85,414.83 503.45,392.10 504.00,385.00 C504.55,377.90 505.15,371.40 505.70,371.40 C506.25,371.40 506.67,380.23 507.30,385.00 C507.93,389.77 508.55,398.08 509.50,400.00 C510.45,401.92 511.58,395.70 513.00,396.50 C514.42,397.30 516.37,404.07 518.00,404.80 C519.63,405.53 521.67,401.78 522.80,400.90 C523.93,400.02 524.47,399.73 524.80,399.50" fill="none" stroke="#f2b4a2" stroke-opacity="0.7" stroke-width="4.8" stroke-linejoin="round" stroke-linecap="round"/><path d="M443.00,468.80 C443.87,467.93 446.68,466.98 448.20,463.60 C449.72,460.22 450.78,451.55 452.10,448.50 C453.42,445.45 454.90,448.48 456.10,445.30 C457.30,442.12 458.37,435.48 459.30,429.40 C460.23,423.32 461.03,410.12 461.70,408.80 C462.37,407.48 462.78,415.28 463.30,421.50 C463.82,427.72 464.15,450.52 464.80,446.10 C465.45,441.68 466.62,407.35 467.20,395.00 C467.78,382.65 467.93,377.13 468.30,372.00 C468.67,366.87 469.03,364.20 469.40,364.20 C469.77,364.20 470.10,366.87 470.50,372.00 C470.90,377.13 471.28,386.75 471.80,395.00 C472.32,403.25 472.90,417.67 473.60,421.50 C474.30,425.33 475.08,415.88 476.00,418.00 C476.92,420.12 478.05,434.67 479.10,434.20 C480.15,433.73 481.40,417.90 482.30,415.20 C483.20,412.50 483.57,416.02 484.50,418.00 C485.43,419.98 486.82,428.63 487.90,427.10 C488.98,425.57 490.08,412.38 491.00,408.80 C491.92,405.22 492.70,410.40 493.40,405.60 C494.10,400.80 494.60,390.10 495.20,380.00 C495.80,369.90 496.43,351.83 497.00,345.00 C497.57,338.17 498.07,339.00 498.60,339.00 C499.13,339.00 499.75,338.17 500.20,345.00 C500.65,351.83 500.93,368.50 501.30,380.00 C501.67,391.50 501.95,413.17 502.40,414.00 C502.85,414.83 503.45,392.10 504.00,385.00 C504.55,377.90 505.15,371.40 505.70,371.40 C506.25,371.40 506.67,380.23 507.30,385.00 C507.93,389.77 508.55,398.08 509.50,400.00 C510.45,401.92 511.58,395.70 513.00,396.50 C514.42,397.30 516.37,404.07 518.00,404.80 C519.63,405.53 521.67,401.78 522.80,400.90 C523.93,400.02 524.47,399.73 524.80,399.50" fill="none" stroke="#1b73c6" stroke-width="3" stroke-linejoin="round" stroke-linecap="round"/><rect x="63.8" y="426.5" width="45.1" height="17.7" fill="#dedada" fill-opacity="0.9"/><text x="67.4" y="439.3" font-size="15" font-style="italic" fill="#111" stroke="#111" stroke-width="0.28" style="font-family:'Liberation Serif',serif" letter-spacing="0.75">f(θ,t<tspan font-size="9" dy="2.3" font-style="normal">1</tspan><tspan dy="-2.3">)</tspan></text><rect x="115.1" y="431.3" width="44.7" height="17.5" fill="#dedada" fill-opacity="0.9"/><text x="118.7" y="443.9" font-size="15" font-style="italic" fill="#111" stroke="#111" stroke-width="0.28" style="font-family:'Liberation Serif',serif" letter-spacing="0.75">f(θ,t<tspan font-size="9" dy="2.3" font-style="normal">2</tspan><tspan dy="-2.3">)</tspan></text><rect x="165.2" y="435" width="45.9" height="18.2" fill="#dedada" fill-opacity="0.9"/><text x="168.8" y="448.3" font-size="15" font-style="italic" fill="#111" stroke="#111" stroke-width="0.28" style="font-family:'Liberation Serif',serif" letter-spacing="0.75">f(θ,t<tspan font-size="9" dy="2.3" font-style="normal">3</tspan><tspan dy="-2.3">)</tspan></text><rect x="221.6" y="440.7" width="41.7" height="17.7" fill="#dedada" fill-opacity="0.9"/><text x="225.2" y="453.5" font-size="15" font-style="italic" fill="#111" stroke="#111" stroke-width="0.28" style="font-family:'Liberation Serif',serif" letter-spacing="0.75">f(θ,t<tspan font-size="9" dy="2.3" font-style="normal">4</tspan><tspan dy="-2.3">)</tspan></text><rect x="312.2" y="308.4" width="45.2" height="18.4" fill="#dedada" fill-opacity="0.9"/><text x="315.8" y="321.9" font-size="15" font-style="italic" fill="#111" stroke="#111" stroke-width="0.28" style="font-family:'Liberation Serif',serif" letter-spacing="0.75">f(θ,t<tspan font-size="9" dy="2.3" font-style="normal">5</tspan><tspan dy="-2.3">)</tspan></text><rect x="368" y="311.5" width="46.0" height="18.3" fill="#dedada" fill-opacity="0.9"/><text x="371.6" y="324.9" font-size="15" font-style="italic" fill="#111" stroke="#111" stroke-width="0.28" style="font-family:'Liberation Serif',serif" letter-spacing="0.75">f(θ,t<tspan font-size="9" dy="2.3" font-style="normal">6</tspan><tspan dy="-2.3">)</tspan></text><rect x="424.3" y="315" width="44.2" height="18.5" fill="#dedada" fill-opacity="0.9"/><text x="427.9" y="328.6" font-size="15" font-style="italic" fill="#111" stroke="#111" stroke-width="0.28" style="font-family:'Liberation Serif',serif" letter-spacing="0.75">f(θ,t<tspan font-size="9" dy="2.3" font-style="normal">7</tspan><tspan dy="-2.3">)</tspan></text><rect x="481" y="316.5" width="42.0" height="18.5" fill="#dedada" fill-opacity="0.9"/><text x="484.6" y="330.1" font-size="15" font-style="italic" fill="#111" stroke="#111" stroke-width="0.28" style="font-family:'Liberation Serif',serif" letter-spacing="0.75">f(θ,t<tspan font-size="9" dy="2.3" font-style="normal">8</tspan><tspan dy="-2.3">)</tspan></text><text x="288.3" y="502.5" font-size="12" text-anchor="middle">Time</text><text transform="translate(542.3,459) rotate(-43.8)" font-size="12" text-anchor="middle">Theta (degree)</text><text transform="translate(22.3,405) rotate(-90)" font-size="12" text-anchor="middle">Normalized Amplitude (a.u.)</text></svg></body></html>
